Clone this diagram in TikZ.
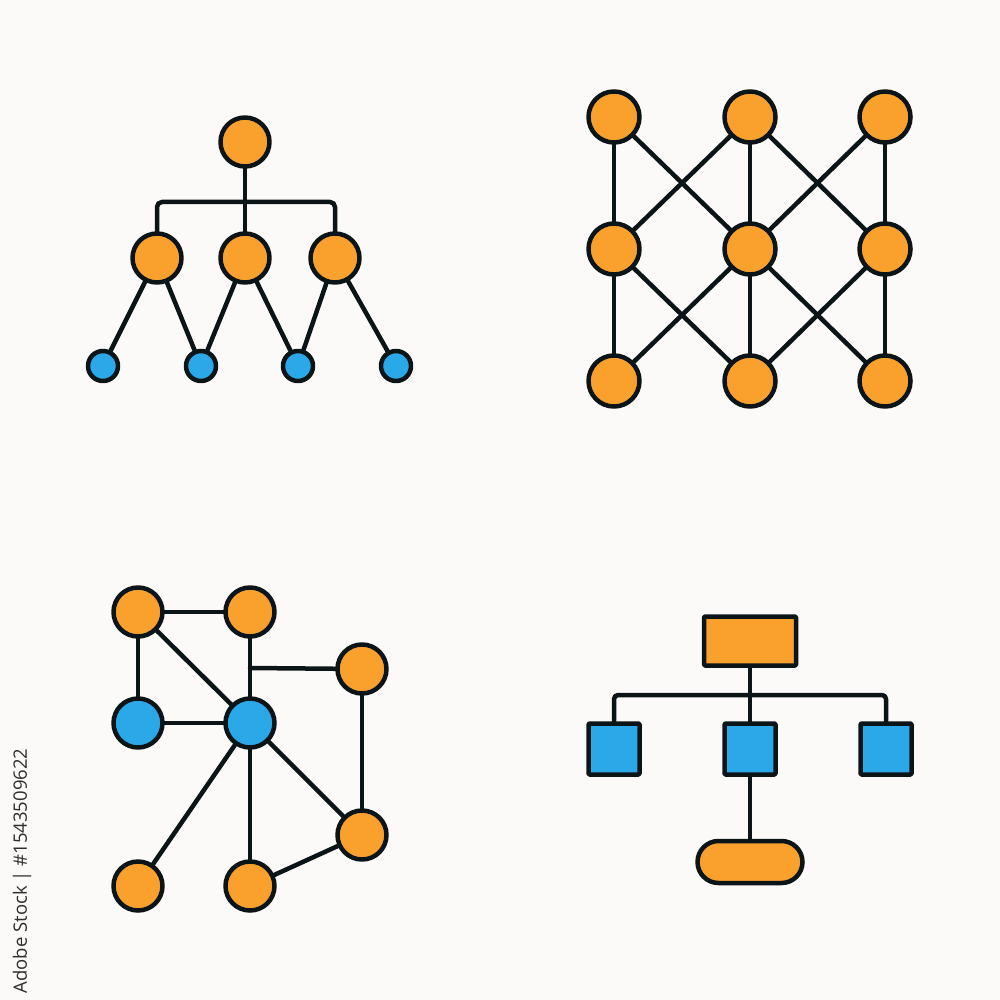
\documentclass[tikz,border=0pt]{standalone}
\usepackage{fontspec}
\setmainfont{Open Sans}
\usetikzlibrary{shapes.misc}
\definecolor{bgc}{HTML}{FCFAF8}
\definecolor{orc}{HTML}{F9A02D}
\definecolor{blc}{HTML}{2BA8E8}
\definecolor{lnc}{HTML}{0B1416}
\definecolor{txc}{HTML}{2E2E2E}
\pgfdeclarelayer{bgfill}
\pgfdeclarelayer{edges}
\pgfsetlayers{bgfill,edges,main}
\begin{document}
\begin{tikzpicture}[x=1pt,y=-1pt,
  stroke/.style={draw=lnc,line width=4.5pt,line cap=round,line join=round},
  conn/.style={stroke},
  bigo/.style={circle,stroke,fill=orc,inner sep=0pt,minimum size=49pt},
  netn/.style={circle,stroke,fill=orc,inner sep=0pt,minimum size=51pt},
  smb/.style={circle,stroke,fill=blc,inner sep=0pt,minimum size=30pt},
  bigb/.style={circle,stroke,fill=blc,inner sep=0pt,minimum size=49pt},
  sqb/.style={rectangle,stroke,fill=blc,inner sep=0pt,minimum size=51pt,rounded corners=1pt},
  topbox/.style={rectangle,stroke,fill=orc,inner sep=0pt,minimum width=92pt,minimum height=49pt,rounded corners=1pt},
  pillbox/.style={rectangle,stroke,fill=orc,inner sep=0pt,minimum width=105pt,minimum height=42pt,rounded corners=21pt}]
\begin{pgfonlayer}{bgfill}
\fill[bgc] (0,0) rectangle (1000,1000);
\end{pgfonlayer}
\useasboundingbox (0,0) rectangle (1000,1000);

% ---------- top-left tree ----------
\node[bigo] (t0) at (245,142) {};
\node[bigo] (m1) at (157,258) {};
\node[bigo] (m2) at (245,258) {};
\node[bigo] (m3) at (335,258) {};
\node[smb] (l1) at (103,366) {};
\node[smb] (l2) at (201,366) {};
\node[smb] (l3) at (298,366) {};
\node[smb] (l4) at (396,366) {};
\coordinate (tbus) at (335,202);

% ---------- top-right network ----------
\foreach \c/\x in {0/614,1/750,2/885}{
  \foreach \r/\y in {0/117,1/249,2/381}{
    \node[netn] (n\c\r) at (\x,\y) {};
  }
}

% ---------- bottom-left graph ----------
\node[bigo] (ga) at (138,612) {};
\node[bigo] (gb) at (250,612) {};
\node[bigo] (gc) at (362,669) {};
\node[bigb] (gd) at (138,723) {};
\node[bigb] (ge) at (250,723) {};
\node[bigo] (gf) at (138,886) {};
\node[bigo] (gg) at (250,886) {};
\node[bigo] (gh) at (362,835) {};
\coordinate (gj) at (250,668);

% ---------- bottom-right org chart ----------
\node[topbox] (ob) at (750,641) {};
\node[sqb] (s1) at (614,749) {};
\node[sqb] (s2) at (750,749) {};
\node[sqb] (s3) at (886,749) {};
\node[pillbox] (pl) at (750,862) {};
\coordinate (obus) at (886,695);

% ---------- connectors ----------
\begin{pgfonlayer}{edges}
\draw[conn] (t0) -- (m2);
\draw[conn,rounded corners=5pt] (m1.north) |- (tbus) -- (m3.north);
\draw[conn] (m1) -- (l1); \draw[conn] (m1) -- (l2);
\draw[conn] (m2) -- (l2); \draw[conn] (m2) -- (l3);
\draw[conn] (m3) -- (l3); \draw[conn] (m3) -- (l4);

\foreach \c in {0,1,2}{
  \draw[conn] (n\c0) -- (n\c1); \draw[conn] (n\c1) -- (n\c2);
}
\foreach \a/\b in {0/1,1/2}{
  \draw[conn] (n0\a) -- (n1\b); \draw[conn] (n1\a) -- (n0\b);
  \draw[conn] (n1\a) -- (n2\b); \draw[conn] (n2\a) -- (n1\b);
}

\draw[conn] (ga) -- (gb);
\draw[conn] (ga) -- (gd);
\draw[conn] (ga) -- (ge);
\draw[conn] (gb) -- (ge);
\draw[conn] (gj) -- (gc);
\draw[conn] (gc) -- (gh);
\draw[conn] (gd) -- (ge);
\draw[conn] (ge) -- (gf);
\draw[conn] (ge) -- (gg);
\draw[conn] (ge) -- (gh);
\draw[conn] (gg) -- (gh);

\draw[conn] (ob) -- (s2);
\draw[conn,rounded corners=4pt] (s1.north) |- (obus) -- (s3.north);
\draw[conn] (s2) -- (pl);
\end{pgfonlayer}

% ---------- side text ----------
\node[rotate=90,text=txc,font=\fontsize{18.5}{19}\selectfont,inner sep=0pt] (wm) at (22,871) {Adobe Stock | \#1543509622};
\end{tikzpicture}
\end{document}
